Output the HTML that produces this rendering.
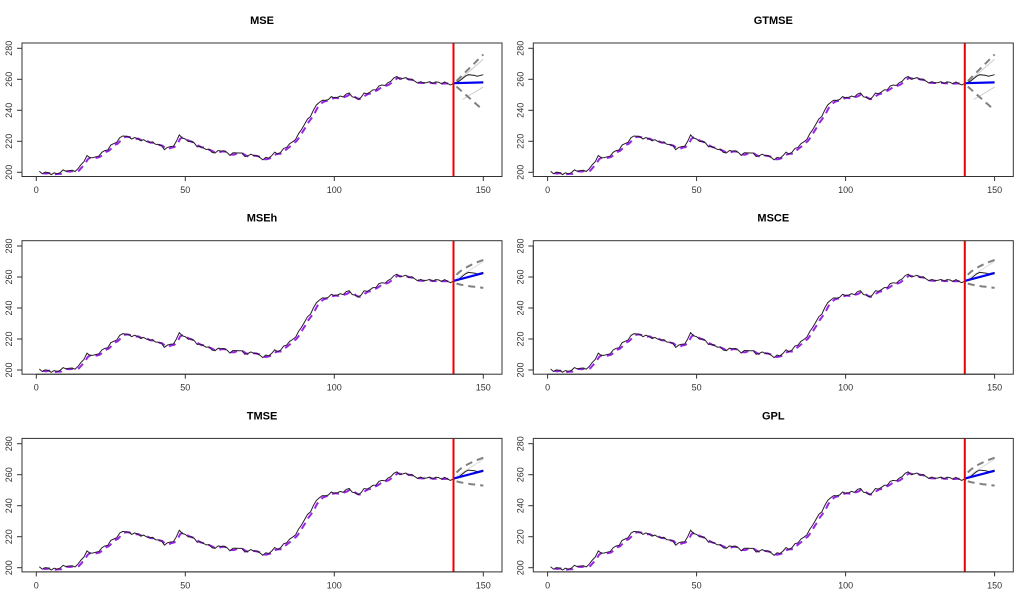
<!DOCTYPE html>
<html><head><meta charset="utf-8"><style>
html,body{margin:0;padding:0;background:#fff;}
svg{display:block;font-family:"Liberation Sans",sans-serif;}
</style></head><body>
<svg id="s" width="1024" height="597" viewBox="0 0 1024 597" xmlns="http://www.w3.org/2000/svg"></svg>
<script>
var svg=document.getElementById('s');
var key=[[1,200.5],[3,199.5],[5,199],[8,200],[10,201],[14,201.5],[17,210.5],[20,209],[22,213],[24,215],[27,220],[29,224],[31,222],[33,222.5],[36,220],[38,220],[40,218.5],[43,215.5],[46,217],[47,219],[48,224.5],[50,221],[52,219.5],[55,216.5],[58,214],[60,213],[62,214],[65,212],[68,212.5],[70,211],[73,211],[76,209],[78,209],[80,212.5],[82,213],[85,218],[88,224],[90,231],[92,237],[95,245.5],[98,247.5],[101,248.5],[105,250.5],[107,248],[108,247.5],[110,250],[113,253],[115,255],[118,257.5],[120,261],[122,260.5],[124,261],[127,258.5],[130,258],[132,257.5],[134,258.5],[136,257.5],[140,257]];
function val(t){for(var i=0;i<key.length-1;i++){if(t<=key[i+1][0]){var a=key[i],b=key[i+1];return a[1]+(b[1]-a[1])*(t-a[0])/(b[0]-a[0]);}}return key[key.length-1][1];}
var data=[];for(var t=1;t<=140;t++){data.push(val(t)+0.7*Math.sin(t*2.3)+0.4*Math.sin(t*5.1));}
var fut=[[140,257],[142,259],[144,262],[145,263],[147,262.5],[148,262],[150,263]];
var titles=["MSE","GTMSE","MSEh","MSCE","TMSE","GPL"];
var h='';
function P(ox,oy){return function(t,v){return (ox+36.3+t*2.98).toFixed(1)+','+(oy+172.3-(v-200)*1.55).toFixed(1);};}
for(var k=0;k<6;k++){
 var col=k%2,row=Math.floor(k/2);
 var ox=col*511.3, oy=row*197.7;
 var p=P(ox,oy);
 h+='<text x="'+(ox+262)+'" y="'+(oy+24)+'" font-size="11" font-weight="bold" text-anchor="middle">'+titles[k]+'</text>';
 var s='';for(var i=0;i<data.length;i++)s+=p(i+1,data[i])+' ';
 var sf='';for(var i=1;i<data.length;i++)sf+=p(i+1.3,data[i-1]*0.5+data[i]*0.5-0.4)+' ';
 var fs='';fut.forEach(function(f){fs+=p(f[0],f[1])+' ';});
 var up,lo,fc;
 if(k<2){up=[257,276];lo=[257,240];fc=[[140,257.5],[150,258]];
   h+='<polyline points="'+p(141,258)+' '+p(150,273)+'" fill="none" stroke="#ccc" stroke-width="1"/>';
   h+='<polyline points="'+p(143,247)+' '+p(150,255)+'" fill="none" stroke="#ccc" stroke-width="1"/>';
 } else {up=[257,271];lo=[257,253];fc=[[140,257.5],[150,262.5]];
   h+='<polyline points="'+p(141,259)+' '+p(150,270)+'" fill="none" stroke="#ddd" stroke-width="1"/>';
 }
 var ups='',los='';for(var t=141;t<=150;t++){var f=(t-140)/10;ups+=p(t,up[0]+(up[1]-up[0])*(k<2?f:Math.sqrt(f)))+' ';los+=p(t,lo[0]+(lo[1]-lo[0])*(k<2?f:Math.sqrt(f)))+' ';}
 h+='<polyline points="'+sf+'" fill="none" stroke="#a020f0" stroke-width="2" stroke-dasharray="7,5"/>';
 h+='<polyline points="'+s+'" fill="none" stroke="#222" stroke-width="1"/>';
 h+='<polyline points="'+ups+'" fill="none" stroke="#808080" stroke-width="2" stroke-dasharray="7,5"/>';
 h+='<polyline points="'+los+'" fill="none" stroke="#808080" stroke-width="2" stroke-dasharray="7,5"/>';
 h+='<polyline points="'+fs+'" fill="none" stroke="#222" stroke-width="1"/>';
 h+='<polyline points="'+p(fc[0][0],fc[0][1])+' '+p(fc[1][0],fc[1][1])+'" fill="none" stroke="#0000ee" stroke-width="2.2"/>';
 var rx=(ox+36.3+140*2.98).toFixed(1);
 h+='<line x1="'+rx+'" y1="'+(oy+43)+'" x2="'+rx+'" y2="'+(oy+176.5)+'" stroke="#ee0000" stroke-width="2"/>';
 h+='<rect x="'+(ox+22)+'" y="'+(oy+43)+'" width="480" height="133.5" fill="none" stroke="#333" stroke-width="1"/>';
 [0,50,100,150].forEach(function(t){var x=ox+36.3+t*2.98;h+='<line x1="'+x+'" y1="'+(oy+176.5)+'" x2="'+x+'" y2="'+(oy+181)+'" stroke="#333"/>';h+='<text x="'+x+'" y="'+(oy+193)+'" font-size="9" text-anchor="middle" fill="#333">'+t+'</text>';});
 h+='<line x1="'+(ox+36.3)+'" y1="'+(oy+176.5)+'" x2="'+(ox+483.3)+'" y2="'+(oy+176.5)+'" stroke="#333"/>';
 [200,220,240,260,280].forEach(function(v){var y=oy+172.3-(v-200)*1.55;h+='<line x1="'+(ox+17)+'" y1="'+y+'" x2="'+(ox+22)+'" y2="'+y+'" stroke="#333"/>';h+='<text transform="translate('+(ox+12)+','+y+') rotate(-90)" font-size="9" text-anchor="middle" fill="#333">'+v+'</text>';});
 h+='<line x1="'+(ox+22)+'" y1="'+(oy+48.3)+'" x2="'+(ox+22)+'" y2="'+(oy+172.3)+'" stroke="#333"/>';
}
svg.innerHTML=h;
</script>
</body></html>
